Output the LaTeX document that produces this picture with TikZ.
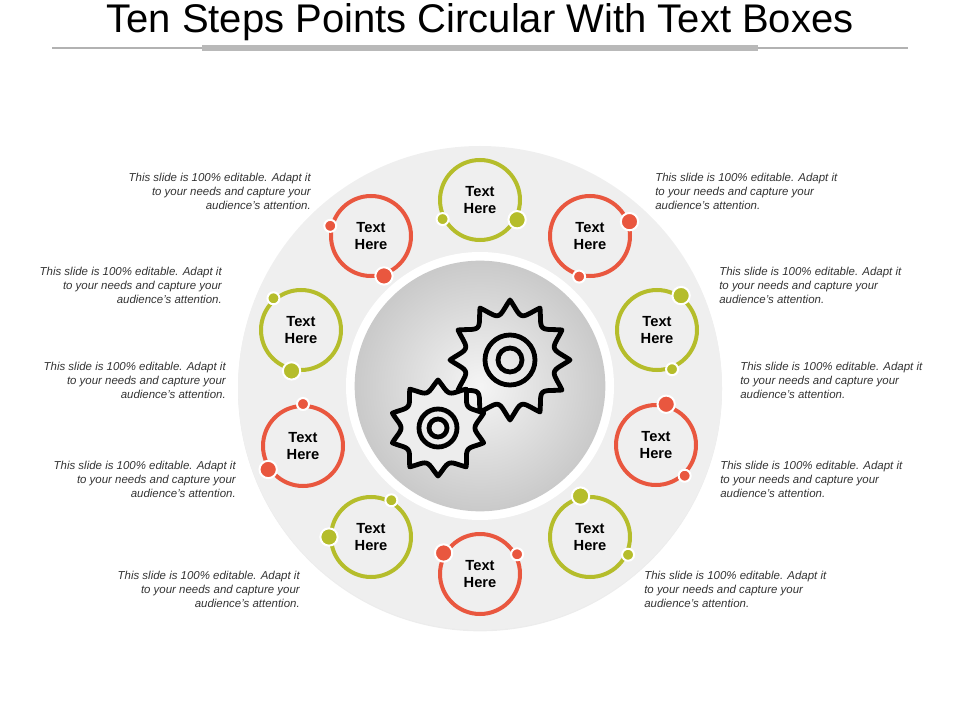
\documentclass[tikz,border=0pt]{standalone}
\usepackage{fontspec}
\setmainfont{Liberation Sans}
\usepackage{tikz}
\usetikzlibrary{positioning,calc,shadows}

\definecolor{stepgreen}{HTML}{B5BD2B}
\definecolor{stepred}{HTML}{E9573F}
\definecolor{discgray}{HTML}{EFEFEF}

\begin{document}
\begin{tikzpicture}[
      x=0.75pt,y=-0.75pt,
      ring/.style={
        circle,
        draw,
        line width=3pt,
        minimum size=60pt,
        align=center,
        font=\fontsize{11}{12.5}\selectfont\bfseries
      },
      bigdot/.style={circle,fill,draw=white,line width=1.5pt,minimum size=13pt,inner sep=0pt},
      smalldot/.style={circle,fill,draw=white,line width=1.5pt,minimum size=9pt,inner sep=0pt},
      note/.style={font=\fontsize{8.6}{10.5}\selectfont\itshape,color=black!80,inner sep=0pt},
      gear/.style={line width=3.6pt,line join=round,draw=black}
    ]
    \useasboundingbox (0,0) rectangle (960,720);

    % Title
    \node[font=\fontsize{30}{34}\selectfont] (title) at (480,22) {Ten Steps Points Circular With Text Boxes};
    \coordinate (lineL) at (52,48);
    \coordinate (lineR) at (908,48);
    \draw[gray!60,line width=0.8pt] (lineL) -- (lineR);
    \fill[gray!55] (202,45) rectangle (758,51);

    % Discs
    \node[circle,fill=discgray,minimum size=363pt,inner sep=0pt,
          drop shadow={shadow xshift=0pt,shadow yshift=-1pt,opacity=0.15}] (disc) at (480,388) {};
    \node[circle,fill=white,minimum size=201pt,inner sep=0pt] (gap) at (480,386) {};
    \node[circle,inner color=gray!8,outer color=gray!42,minimum size=188pt,inner sep=0pt] (core) at (480,386) {};

    % Gears
    \coordinate (gearA) at (510,360);
    \coordinate (gearB) at (438,428);
    \begin{scope}[shift={(gearA)}]
      \draw[gear] plot[domain=0:360,samples=361] ({\x}:{46+14*(1-abs(sin(6*\x)))}) -- cycle;
    \end{scope}
    \begin{scope}[shift={(gearB)}]
      \draw[gear,fill=gray!14] plot[domain=0:360,samples=361] ({\x+18}:{37+11*(1-abs(sin(5*\x)))}) -- cycle;
    \end{scope}
    \draw[gear] (gearA) circle[radius=25] (gearA) circle[radius=12];
    \draw[gear] (gearB) circle[radius=19] (gearB) circle[radius=9];

    % Rings: name/position/colour/big-dot angle/small-dot angle
    \foreach \n/\pos/\col/\ba/\sa in {
        s1/{(480,200)}/stepgreen/-28/-153,
        s2/{(590,236)}/stepred/20/-105,
        s3/{(657,330)}/stepgreen/55/-69,
        s4/{(656,445)}/stepred/76/-47,
        s5/{(590,537)}/stepgreen/103/-25,
        s6/{(480,574)}/stepred/150/28,
        s7/{(371,537)}/stepgreen/180/61,
        s8/{(303,446)}/stepred/-146/90,
        s9/{(301,330)}/stepgreen/-103/131,
        s10/{(371,236)}/stepred/-72/166} {
      \node[ring,draw=\col] (\n) at \pos {Text\\Here};
      \node[bigdot,fill=\col] (\n-big) at (\n.\ba) {};
      \node[smalldot,fill=\col] (\n-small) at (\n.\sa) {};
    }

    % Notes
    \node[note,anchor=north west,align=left] (r1) at (655,173) {This slide is 100\% editable. Adapt it\\to your needs and capture your\\audience's attention.};
    \node[note,anchor=north west,align=left] (r2) at (719,267) {This slide is 100\% editable. Adapt it\\to your needs and capture your\\audience's attention.};
    \node[note,anchor=north west,align=left] (r3) at (740,362) {This slide is 100\% editable. Adapt it\\to your needs and capture your\\audience's attention.};
    \node[note,anchor=north west,align=left] (r4) at (720,461) {This slide is 100\% editable. Adapt it\\to your needs and capture your\\audience's attention.};
    \node[note,anchor=north west,align=left] (r5) at (644,571) {This slide is 100\% editable. Adapt it\\to your needs and capture your\\audience's attention.};
    \node[note,anchor=north east,align=right] (l1) at (311,173) {This slide is 100\% editable. Adapt it\\to your needs and capture your\\audience's attention.};
    \node[note,anchor=north east,align=right] (l2) at (222,267) {This slide is 100\% editable. Adapt it\\to your needs and capture your\\audience's attention.};
    \node[note,anchor=north east,align=right] (l3) at (226,362) {This slide is 100\% editable. Adapt it\\to your needs and capture your\\audience's attention.};
    \node[note,anchor=north east,align=right] (l4) at (236,461) {This slide is 100\% editable. Adapt it\\to your needs and capture your\\audience's attention.};
    \node[note,anchor=north east,align=right] (l5) at (300,571) {This slide is 100\% editable. Adapt it\\to your needs and capture your\\audience's attention.};
  \end{tikzpicture}
\end{document}
